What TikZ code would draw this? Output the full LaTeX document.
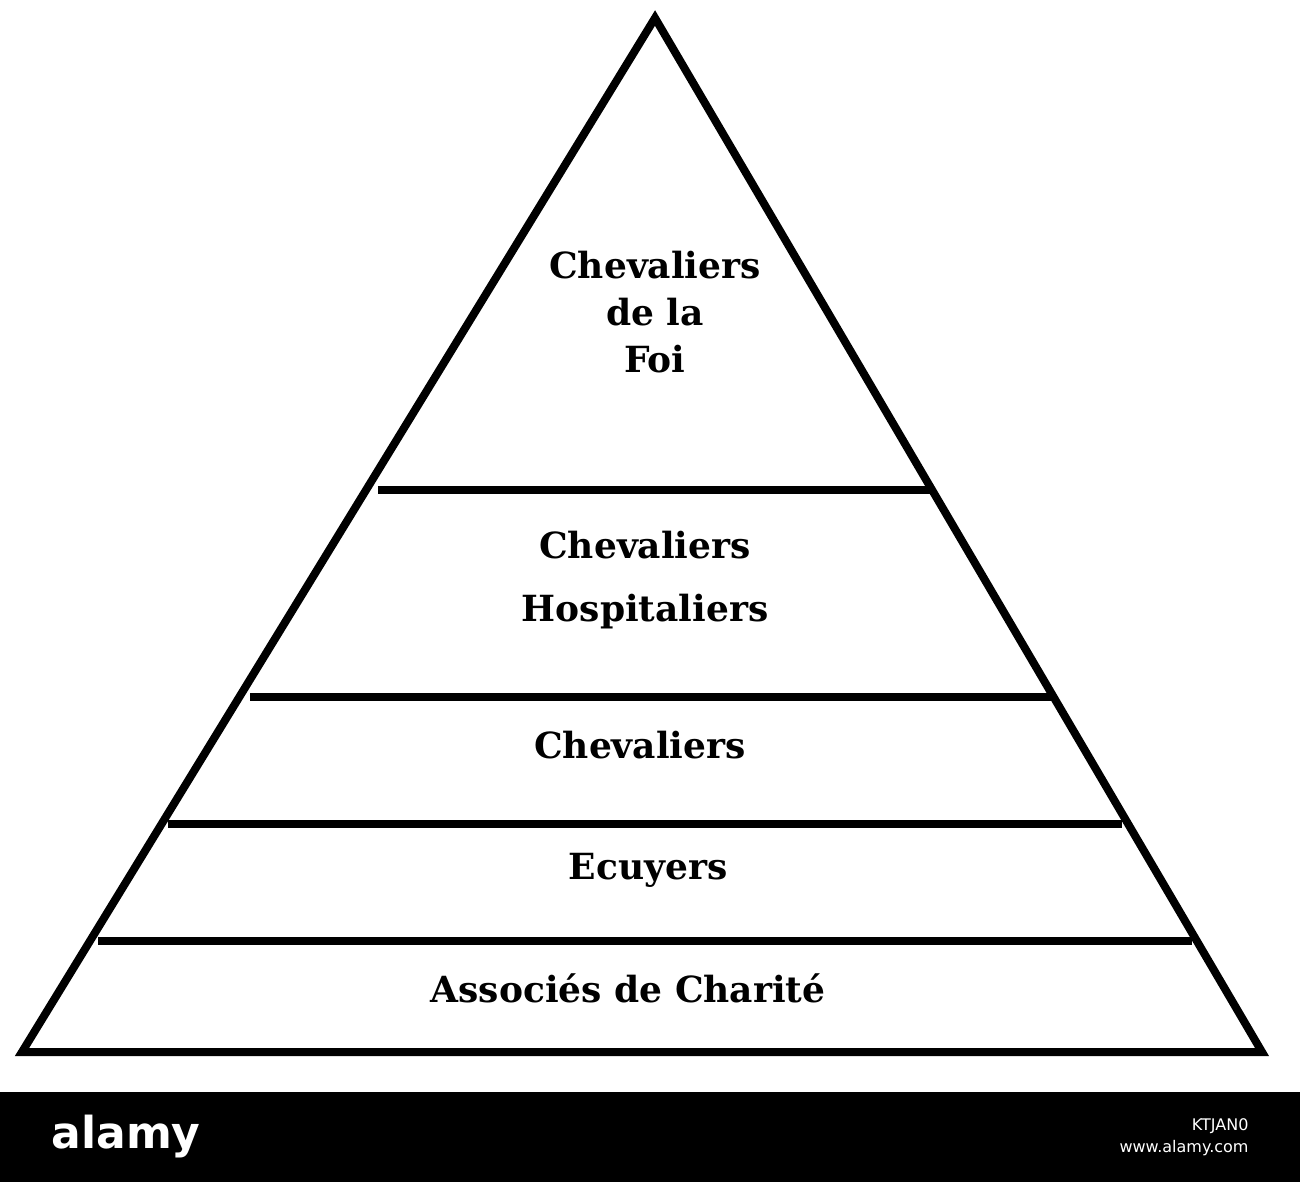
\documentclass[tikz,border=0pt]{standalone}
\usepackage{fontspec}
\setmainfont{DejaVu Serif}
\newfontfamily\wm{DejaVu Sans}
\begin{document}
\begin{tikzpicture}[x=1pt,y=-1pt,lab/.style={font=\bfseries\fontsize{36}{47}\selectfont,align=center,inner sep=0pt},ln/.style={line width=8pt}]
\useasboundingbox (0,0) rectangle (1300,1182);
\fill[white] (0,0) rectangle (1300,1182);
\fill[black] (0,1092) rectangle (1300,1182);
\coordinate (A) at (655,18);
\coordinate (L) at (22,1052);
\coordinate (R) at (1262,1052);
\draw[ln,line join=miter] (A) -- (R) -- (L) -- cycle;
\coordinate (l1) at (378,490); \coordinate (r1) at (930,490);
\coordinate (l2) at (250,697); \coordinate (r2) at (1052,697);
\coordinate (l3) at (168,824); \coordinate (r3) at (1122,824);
\coordinate (l4) at (98,941); \coordinate (r4) at (1192,941);
\draw[ln] (l1)--(r1); \draw[ln] (l2)--(r2); \draw[ln] (l3)--(r3); \draw[ln] (l4)--(r4);
\node[lab] (t1) at (655,312) {Chevaliers\\de la\\Foi};
\node[lab,font=\bfseries\fontsize{36}{63}\selectfont] (t2) at (645,580) {Chevaliers\\Hospitaliers};
\node[lab] (t3) at (640,745) {Chevaliers};
\node[lab] (t4) at (648,870) {Ecuyers};
\node[lab] (t5) at (628,988) {Associés de Charité};
\node[white,font=\wm\bfseries\fontsize{44}{44}\selectfont,anchor=west] (w1) at (48,1137) {alamy};
\node[white,font=\wm\fontsize{16}{22}\selectfont,align=right,anchor=east] (w2) at (1252,1137) {KTJAN0\\www.alamy.com};
\end{tikzpicture}
\end{document}
